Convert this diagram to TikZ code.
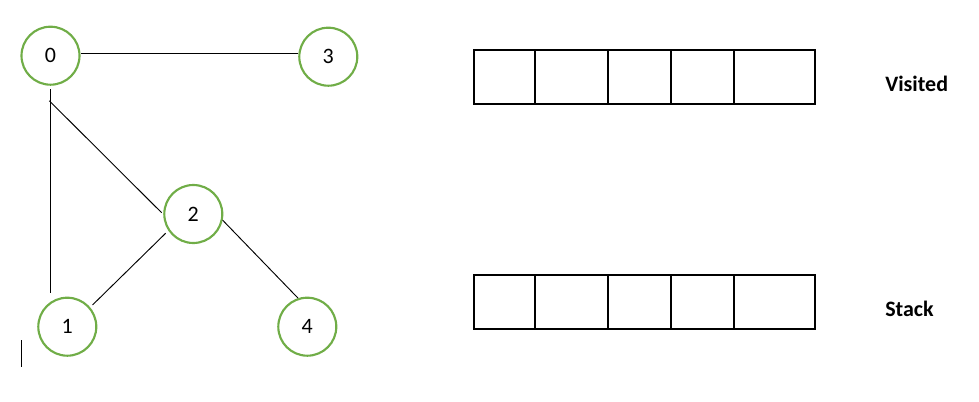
\documentclass[tikz,border=0pt]{standalone}
\usepackage{fontspec}
\setmainfont{Carlito}
\definecolor{vgreen}{RGB}{112,173,71}
\begin{document}
\begin{tikzpicture}[x=0.75pt,y=-0.75pt,
  vert/.style={circle,draw=vgreen,line width=1.6pt,minimum size=58*0.75pt,inner sep=0pt,font=\fontsize{16.5}{19}\selectfont},
  edge/.style={draw=black,line width=0.7pt},
  cell/.style={draw=black,line width=1pt},
  lab/.style={font=\fontsize{16.5}{20}\selectfont\bfseries,anchor=west,inner sep=0pt}]
\useasboundingbox (0,0) rectangle (979,401);
\node[vert] (n0) at (50.5,55.7) {0};
\node[vert] (n3) at (328.3,56.7) {3};
\node[vert] (n2) at (193.3,214) {2};
\node[vert] (n1) at (67.3,326.7) {1};
\node[vert] (n4) at (307.3,326.7) {4};
% edges
\draw[edge] ([yshift=2.4*0.75pt]n0.east) -- ([yshift=3.4*0.75pt]n3.west);
\draw[edge] ([xshift=-0.5*0.75pt,yshift=-3.5*0.75pt]n0.south) -- ([xshift=-0.5*0.75pt,yshift=3.4*0.75pt]n0.south |- n1.north);
\draw[edge] ([xshift=-1.2*0.75pt,yshift=-15*0.75pt]n0.south) -- ([xshift=-1.6*0.75pt,yshift=1.3*0.75pt]n2.west);
\draw[edge] ([xshift=4*0.75pt,yshift=0.5*0.75pt]n1.45) -- ([xshift=-6.4*0.75pt,yshift=2*0.75pt]n2.225);
\draw[edge] (n2.-12) -- (n4.108);
% stray mark
\coordinate (m1) at (21.7,340);
\coordinate (m2) at (21.7,366.7);
\draw[edge] (m1) -- (m2);
% visited and stack rows
\foreach \a/\b [count=\i] in {473.3/534.3,534.3/607.3,607.3/670.3,670.3/733.3,733.3/814.3}{
  \node[cell,minimum width=(\b-\a)*0.75pt,minimum height=54*0.75pt,inner sep=0pt,anchor=north west] (v\i) at (\a,49.3) {};
  \node[cell,minimum width=(\b-\a)*0.75pt,minimum height=54*0.75pt,inner sep=0pt,anchor=north west] (s\i) at (\a,274.3) {};
}
\node[lab] (visited) at (885,83.5) {Visited};
\node[lab] (stack) at (885,309) {Stack};
\end{tikzpicture}
\end{document}
